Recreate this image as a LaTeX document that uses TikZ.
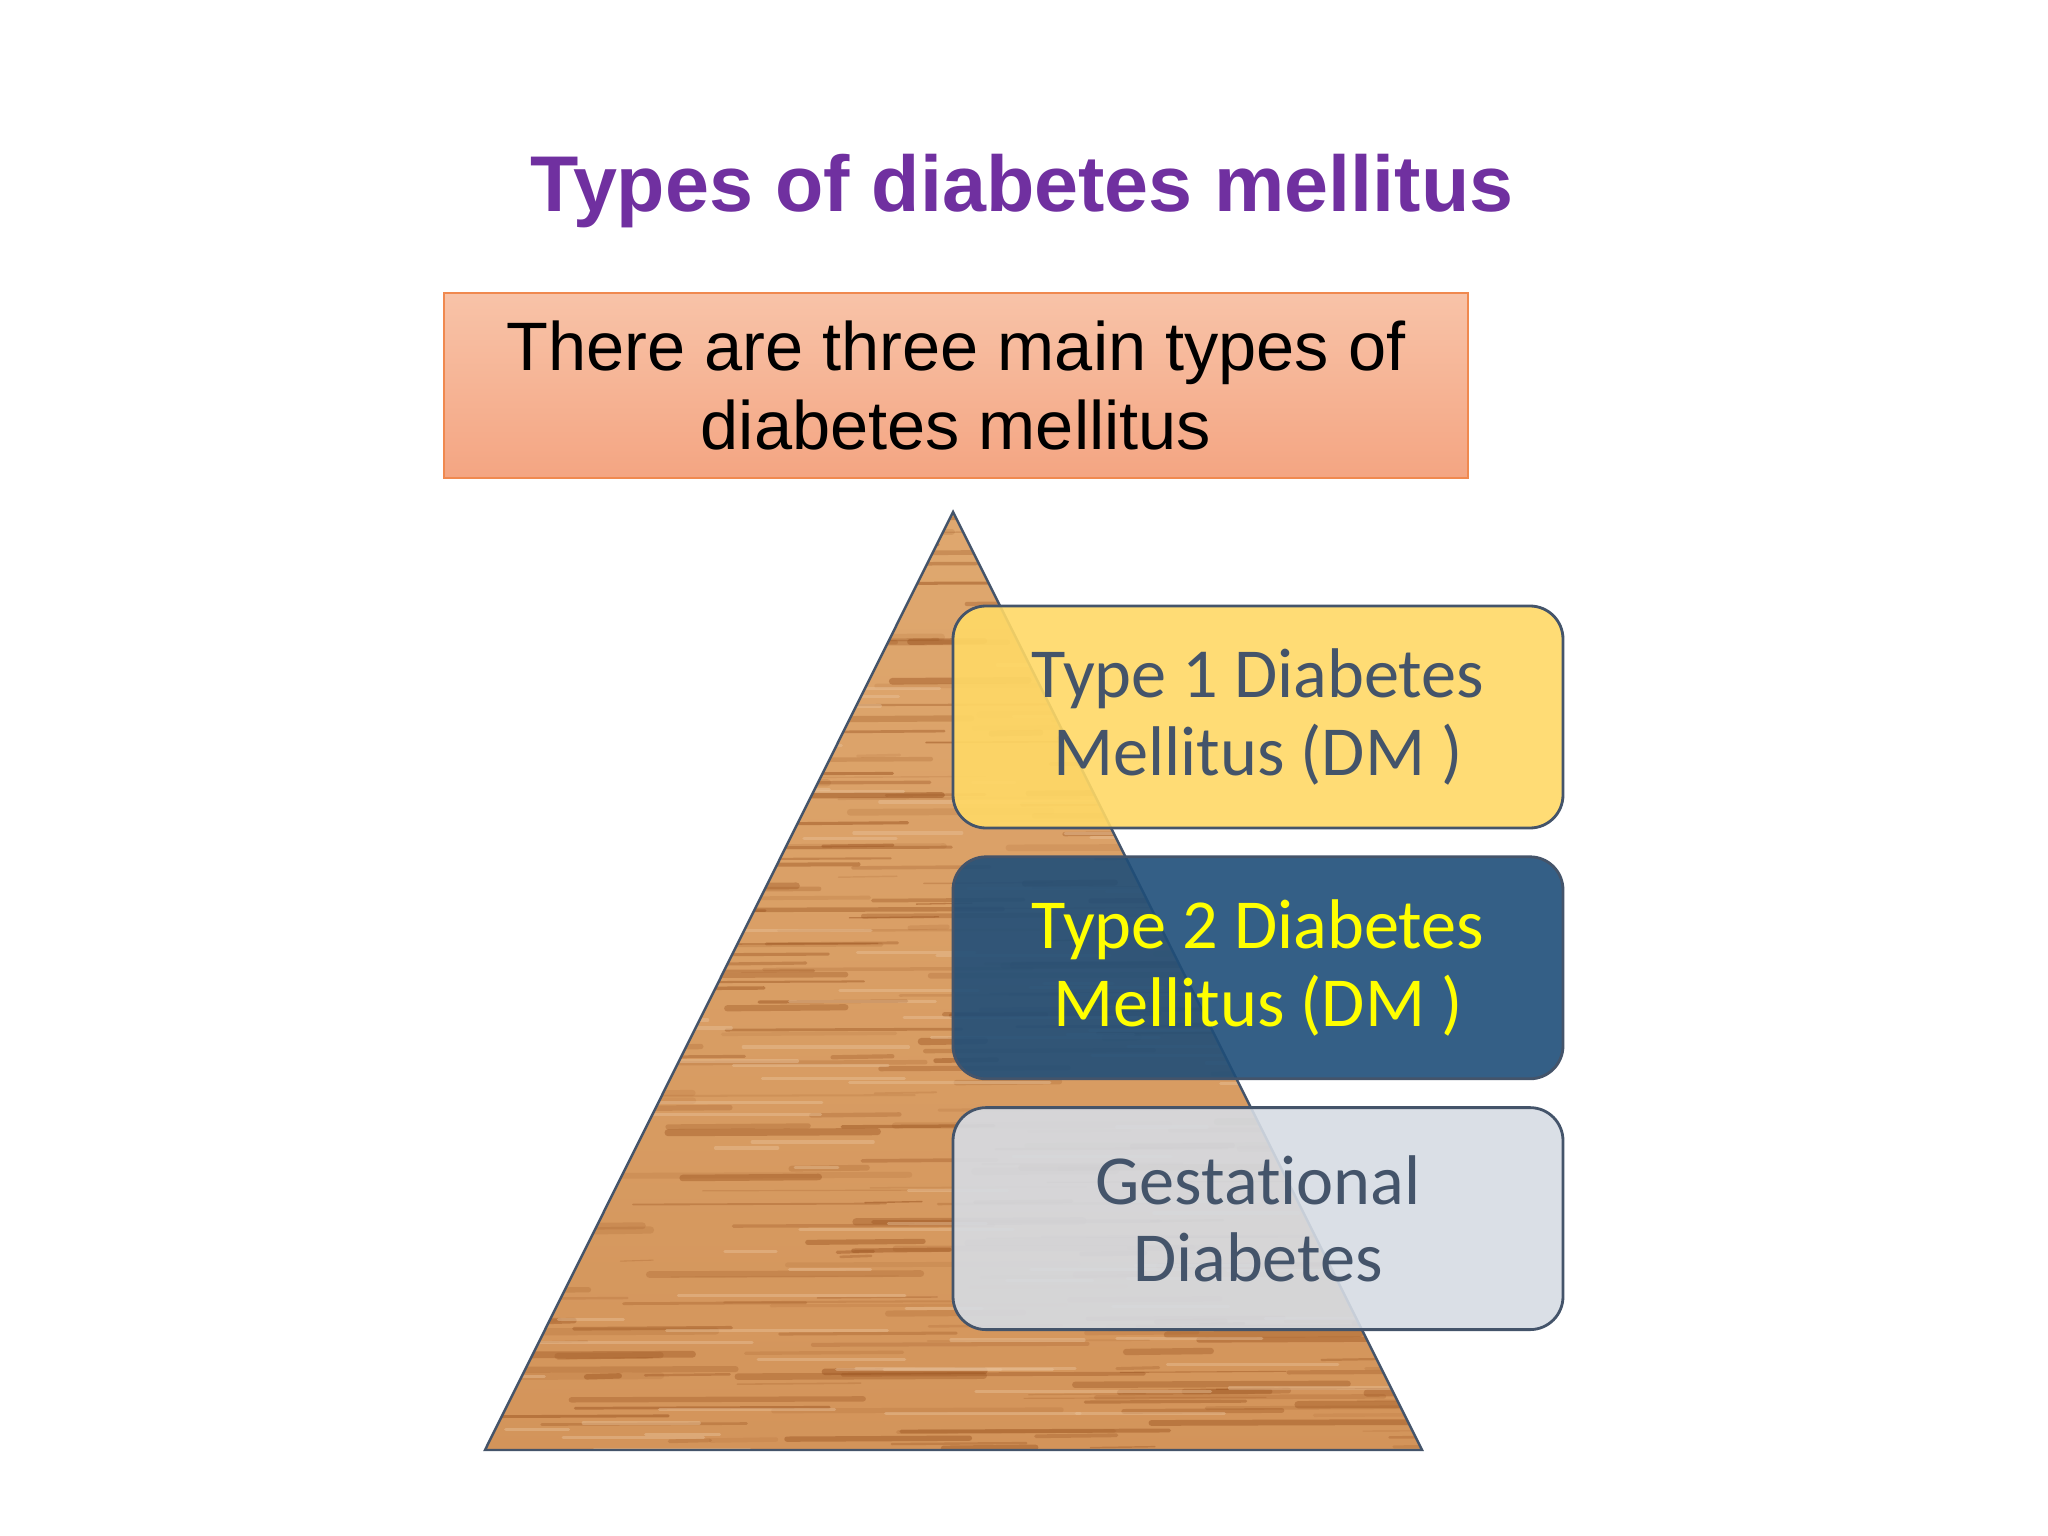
\documentclass[tikz,border=0pt]{standalone}
\usepackage{fontspec}
\setmainfont{Liberation Sans}
\newfontfamily\bodyfont[Ligatures={NoCommon}]{Carlito}
\usepackage{tikz}
\usetikzlibrary{positioning,calc,shapes.geometric}
\usepackage{xcolor}
\definecolor{titlepurple}{HTML}{7030A0}
\definecolor{salmontop}{HTML}{F8C3A8}
\definecolor{salmonbot}{HTML}{F4A582}
\definecolor{salmonline}{HTML}{F0894F}
\definecolor{slate}{HTML}{44546A}
\definecolor{woodbase}{HTML}{D3945A}
\definecolor{woodlight}{HTML}{DFA86F}
\definecolor{woodgrain}{HTML}{9C5522}
\definecolor{goldfill}{HTML}{FFD966}
\definecolor{navyfill}{HTML}{1F4E79}
\definecolor{greyfill}{HTML}{D6DCE4}
\definecolor{brightyellow}{HTML}{FFFF00}
\tikzset{
  introbox/.style={draw=salmonline, line width=0.5pt, top color=salmontop, bottom color=salmonbot, align=center, minimum width=10.24cm, minimum height=1.85cm, inner sep=0pt, font=\fontsize{19.5pt}{22.2pt}\selectfont},
  typebox/.style={rounded corners=0.33cm, draw=slate, line width=0.8pt, fill opacity=0.9, text opacity=1, align=center, minimum width=6.1cm, minimum height=2.22cm, inner sep=0pt, font=\bodyfont\fontsize{20pt}{22pt}\selectfont},
  grain/.style={draw=woodgrain, line cap=round}
}
\begin{document}
\begin{tikzpicture}[node distance=0.26cm]
  \useasboundingbox (0,0) rectangle (20.48,-15.36);
  \fill[white] (0,0) rectangle (20.48,-15.36);
  \node[anchor=base, text=titlepurple, font=\bfseries\fontsize{22.5pt}{26pt}\selectfont] (title) at (10.22,-2.12) {Types of diabetes mellitus};
  \node[introbox] (intro) at (9.56,-3.855) {There are three main types of\\diabetes mellitus};
  % wooden pyramid
  \coordinate (apex) at (9.53,-5.12);
  \coordinate (baseL) at (4.85,-14.5);
  \coordinate (baseR) at (14.22,-14.5);
  \pgfmathsetseed{11}
  \begin{scope}
    \clip (apex) -- (baseR) -- (baseL) -- cycle;
    \fill[top color=woodlight, bottom color=woodbase] (4.8,-5.1) rectangle (14.3,-14.6);
    \foreach \i in {1,...,420}{
      \pgfmathsetmacro{\yy}{-5.1-rnd*9.45}
      \pgfmathsetmacro{\xx}{4.3+rnd*9.8}
      \pgfmathsetmacro{\ll}{0.3+rnd*2.8}
      \pgfmathsetmacro{\ww}{0.3+rnd*1.8}
      \pgfmathsetmacro{\oo}{0.12+rnd*0.4}
      \draw[grain, line width=\ww pt, draw opacity=\oo] (\xx,\yy) -- ++(\ll,0.01);
    }
    \foreach \i in {1,...,140}{
      \pgfmathsetmacro{\yy}{-5.1-rnd*9.45}
      \pgfmathsetmacro{\xx}{4.3+rnd*9.8}
      \pgfmathsetmacro{\ll}{0.4+rnd*2.0}
      \draw[draw=woodlight!70!white, line width=0.9pt, draw opacity=0.45, line cap=round] (\xx,\yy) -- ++(\ll,0);
    }
  \end{scope}
  \draw[slate, line width=0.7pt, line join=miter] (apex) -- (baseR) -- (baseL) -- cycle;
  % the three types
  \node[typebox, fill=goldfill, text=slate] (type1) at (12.58,-7.17) {Type 1 Diabetes\\Mellitus (DM )};
  \node[typebox, fill=navyfill, text=brightyellow, below=of type1] (type2) {Type 2 Diabetes\\Mellitus (DM )};
  \node[typebox, fill=greyfill, text=slate, below=of type2] (gestational) {Gestational\\Diabetes};
\end{tikzpicture}
\end{document}
